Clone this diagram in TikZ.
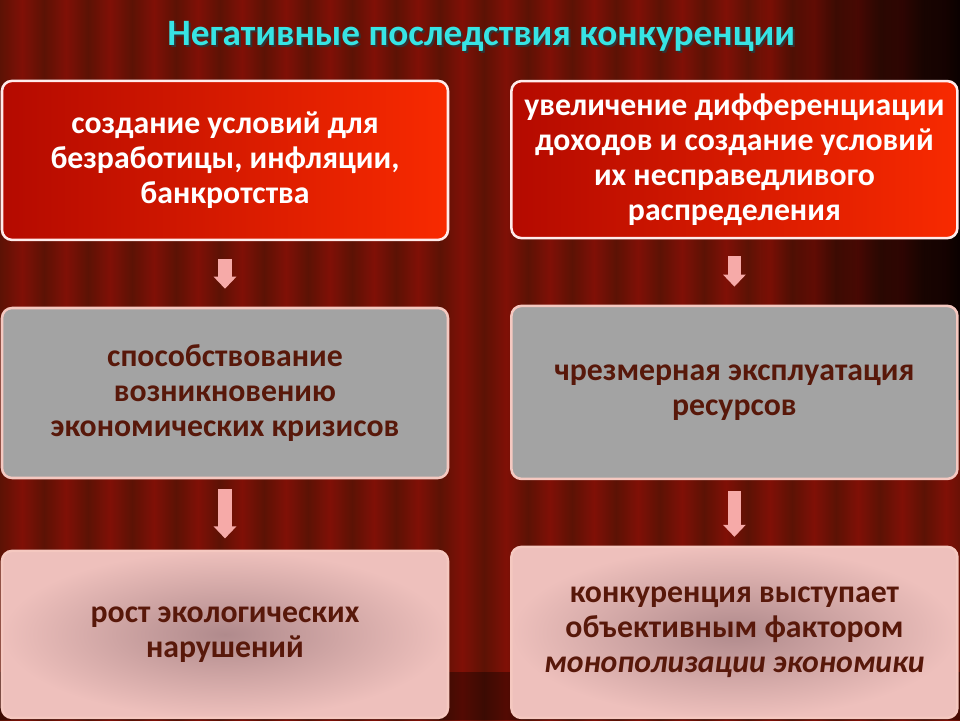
\documentclass[tikz,border=0pt]{standalone}
\usepackage{fontspec}
\setmainfont{Carlito}
\usetikzlibrary{arrows.meta,fadings}

\definecolor{curtain}{RGB}{92,18,5}
\definecolor{curtainlight}{RGB}{128,16,6}
\definecolor{titlecyan}{RGB}{55,228,228}
\definecolor{textbrown}{RGB}{88,24,10}
\definecolor{arrowpink}{RGB}{246,170,168}
\definecolor{boxgray}{RGB}{163,163,163}
\definecolor{boxpink}{RGB}{238,192,188}
\definecolor{boxpinkdark}{RGB}{176,138,140}
\definecolor{edgepink}{RGB}{245,200,192}

\tikzfading[name=darkright, left color=transparent!100, right color=transparent!0]

\begin{document}
\begin{tikzpicture}[
		redbox/.style={draw=white!92!red, line width=1.8pt, rounded corners=2.5mm, left color={rgb,255:red,180;green,10;blue,0}, right color={rgb,255:red,248;green,42;blue,0}, text=white, align=center, font=\bfseries\fontsize{22.6}{25}\selectfont, minimum width=11.15cm},
		graybox/.style={draw=edgepink, line width=1.8pt, rounded corners=2.5mm, fill=boxgray, text=textbrown, align=center, font=\bfseries\fontsize{22.6}{25}\selectfont, minimum width=11.15cm},
		pinkbox/.style={draw=edgepink, line width=1.8pt, rounded corners=2.5mm, inner color=boxpinkdark, outer color=boxpink, text=textbrown, align=center, font=\bfseries\fontsize{22.6}{25}\selectfont, minimum width=11.15cm},
		downarrow/.style={draw=arrowpink, line width=0.33cm, -{Triangle[width=0.55cm, length=0.3cm]}}
	]
	% curtain background
	\useasboundingbox (0,0) rectangle (24,18);
	\fill[curtain] (0,0) rectangle (24,18);
	\foreach \x in {0,1.1,...,23.2}
		\shade[left color=curtain, right color=curtain, middle color=curtainlight] (\x,0) rectangle ++(1.1,18);
	\fill[black, path fading=darkright, opacity=0.9] (19,8) rectangle (24,18);
	\fill[black, opacity=0.35] (0,0) rectangle (24,1.2);

	% title
	\node[text=black!80, font=\bfseries\fontsize{26.5}{30}\selectfont] at (12.08,17.03) {Негативные последствия конкуренции};
	\node[text=titlecyan, font=\bfseries\fontsize{26.5}{30}\selectfont] (title) at (12.03,17.08) {Негативные последствия конкуренции};

	% left column
	\node[redbox, minimum height=3.975cm] (tl) at (5.625,13.99) {создание условий для\\безработицы, инфляции,\\банкротства};
	\node[graybox, minimum height=4.25cm] (ml) at (5.625,8.175) {способствование\\возникновению\\экономических кризисов};
	\node[pinkbox, minimum height=4.175cm] (bl) at (5.625,2.14) {рост экологических\\нарушений};

	% right column
	\node[redbox, minimum height=3.925cm] (tr) at (18.36,14.01) {увеличение дифференциации\\доходов и создание условий\\их несправедливого\\распределения};
	\node[graybox, minimum height=4.325cm] (mr) at (18.36,8.19) {чрезмерная эксплуатация\\ресурсов};
	\node[pinkbox, minimum height=4.275cm] (br) at (18.36,2.19) {конкуренция выступает\\объективным фактором\\\textit{монополизации экономики}};

	\draw[downarrow, shorten <=0.45cm, shorten >=0.45cm] (tl) -- (ml);
	\draw[downarrow, shorten <=0.25cm, shorten >=0.28cm] (ml) -- (bl);
	\draw[downarrow, shorten <=0.42cm, shorten >=0.45cm] (tr) -- (mr);
	\draw[downarrow, shorten <=0.28cm, shorten >=0.22cm] (mr) -- (br);
\end{tikzpicture}
\end{document}
